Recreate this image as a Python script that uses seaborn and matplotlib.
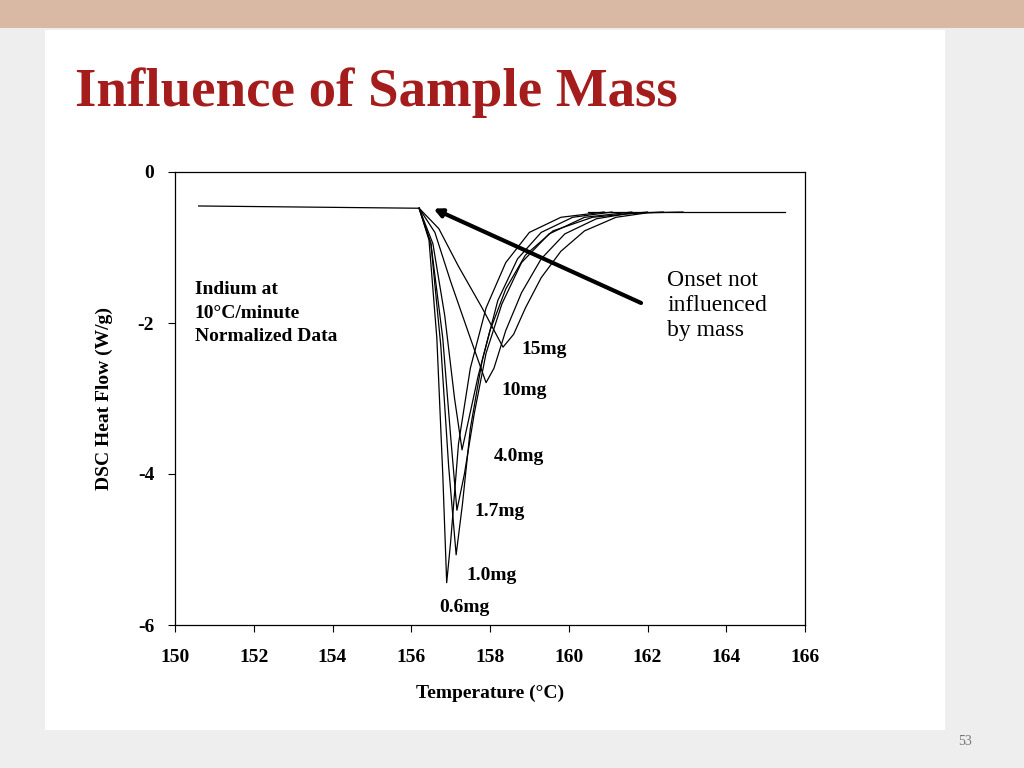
import matplotlib
matplotlib.use("Agg")
import matplotlib.pyplot as plt
import seaborn as sns
import pandas as pd
from matplotlib.patches import Rectangle

# Points (temperature °C, heat flow W/g)
baseline_t = [150.6, 156.2]
baseline_q = [-0.45, -0.48]
tail_t = [160.5, 165.5]
tail_q = [-0.53, -0.53]

curves = {
    "0.6mg": ([156.2, 156.45, 156.65, 156.8, 156.9, 157.0, 157.2, 157.5, 157.9, 158.4, 159.0, 159.8, 160.9],
              [-0.48, -0.9, -2.2, -4.0, -5.44, -4.9, -3.6, -2.6, -1.8, -1.2, -0.8, -0.6, -0.53]),
    "1.0mg": ([156.2, 156.5, 156.75, 156.95, 157.14, 157.3, 157.5, 157.8, 158.2, 158.7, 159.3, 160.1, 161.1],
              [-0.48, -0.95, -2.3, -3.9, -5.07, -4.4, -3.4, -2.5, -1.7, -1.15, -0.8, -0.6, -0.53]),
    "1.7mg": ([156.2, 156.5, 156.8, 157.0, 157.16, 157.35, 157.6, 157.9, 158.3, 158.8, 159.5, 160.4, 161.6],
              [-0.48, -0.95, -2.2, -3.5, -4.48, -4.0, -3.2, -2.4, -1.75, -1.2, -0.82, -0.6, -0.53]),
    "4.0mg": ([156.2, 156.55, 156.85, 157.1, 157.29, 157.45, 157.7, 158.0, 158.4, 158.9, 159.6, 160.6, 162.0],
              [-0.48, -0.95, -1.9, -3.0, -3.68, -3.3, -2.7, -2.1, -1.55, -1.1, -0.78, -0.6, -0.53]),
    "10mg": ([156.2, 156.6, 157.0, 157.5, 157.9, 158.1, 158.4, 158.8, 159.3, 159.9, 160.7, 161.5, 162.4],
             [-0.48, -0.8, -1.45, -2.2, -2.79, -2.6, -2.1, -1.6, -1.15, -0.82, -0.62, -0.55, -0.53]),
    "15mg": ([156.2, 156.7, 157.2, 157.8, 158.33, 158.6, 158.9, 159.3, 159.8, 160.4, 161.2, 162.0, 162.9],
             [-0.48, -0.75, -1.25, -1.8, -2.32, -2.15, -1.8, -1.4, -1.05, -0.78, -0.6, -0.54, -0.53]),
}
label_pos = {
    "15mg": (158.8, -2.35), "10mg": (158.3, -2.9), "4.0mg": (158.1, -3.77),
    "1.7mg": (157.6, -4.5), "1.0mg": (157.4, -5.35), "0.6mg": (156.7, -5.77),
}

rows = []
for name, (t, q) in curves.items():
    for i, (a, b) in enumerate(zip(t, q)):
        rows.append({"mass": name, "order": i, "T": a, "Q": b})
df = pd.DataFrame(rows)

plt.rcParams["font.family"] = "Liberation Serif"
plt.rcParams["axes.unicode_minus"] = False

fig = plt.figure(figsize=(10.24, 7.68), dpi=100)
fig.patch.set_facecolor("#eeeeee")
fig.add_artist(Rectangle((45 / 1024, 38 / 768), 900 / 1024, 700 / 768, zorder=-10,
                         transform=fig.transFigure, facecolor="white", edgecolor="none"))
fig.add_artist(Rectangle((0, 740 / 768), 1, 28 / 768, transform=fig.transFigure, zorder=-10,
                         facecolor="#d9b8a4", edgecolor="none"))

ax = fig.add_axes([175 / 1024, 143 / 768, 630 / 1024, 453 / 768])
ax.set_facecolor("none")
ax.plot(baseline_t, baseline_q, color="black", lw=0.9)
ax.plot(tail_t, tail_q, color="black", lw=0.9)
sns.lineplot(data=df, x="T", y="Q", units="mass", estimator=None, sort=False,
             color="black", lw=0.9, ax=ax)

for name, (x, y) in label_pos.items():
    ax.text(x, y, name, fontsize=14, fontweight="bold", ha="left", va="center")

ax.annotate("", xy=(156.5, -0.47), xytext=(161.9, -1.75),
            arrowprops=dict(arrowstyle="-|>", lw=3, color="black", mutation_scale=12))
ax.text(162.5, -1.3, "Onset not\ninfluenced\nby mass", fontsize=17, va="top", ha="left",
        linespacing=1.25)
ax.text(150.5, -1.45, "Indium at\n10°C/minute\nNormalized Data", fontsize=14,
        fontweight="bold", va="top", ha="left", linespacing=1.5)

ax.set_xlim(150, 166)
ax.set_ylim(-6, 0)
ax.set_xticks(range(150, 167, 2))
ax.set_yticks([0, -2, -4, -6])
ax.tick_params(axis="x", direction="out", labelsize=14, length=5, pad=12)
ax.tick_params(axis="y", direction="out", labelsize=14, length=5, pad=10)
for lab in ax.get_xticklabels() + ax.get_yticklabels():
    lab.set_fontweight("bold")
ax.set_xlabel("Temperature (°C)", fontsize=14, fontweight="bold", labelpad=14)
ax.set_ylabel("DSC Heat Flow (W/g)", fontsize=14, fontweight="bold", labelpad=18)
for s in ax.spines.values():
    s.set_linewidth(0.9)

fig.text(75 / 1024, 1 - 93 / 768, "Influence of Sample Mass", fontsize=39.5,
         fontweight="bold", color="#a51c1c", va="center", ha="left")
fig.text(965 / 1024, 1 - 745 / 768, "53", fontsize=10, color="#777777", ha="center")

fig.savefig("out.png", dpi=100)
